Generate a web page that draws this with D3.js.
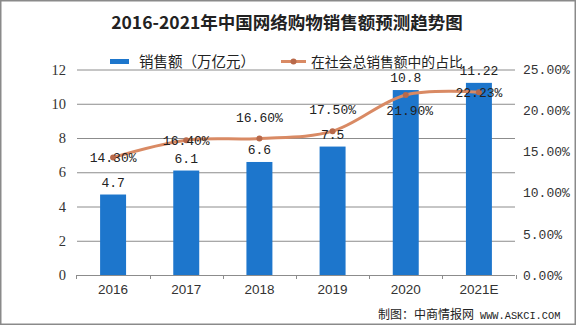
<!DOCTYPE html>
<html><head><meta charset="utf-8">
<script src="https://cdn.jsdelivr.net/npm/d3@7"></script>
<style>
html,body{margin:0;padding:0;background:#fff;}
svg{display:block;}
</style></head>
<body>
<svg id="c" width="576" height="326"></svg>
<script>
const categories = ["2016","2017","2018","2019","2020","2021E"];
const salesValues = [4.7, 6.1, 6.6, 7.5, 10.8, 11.22];
const shareValues = [0.143, 0.164, 0.166, 0.175, 0.219, 0.2223];
const shareLabels = ["14.30%","16.40%","16.60%","17.50%","21.90%","22.23%"];
const shareLabelPlacement = ["center","center","above","above","below","center"];
const leftTicks = [0,2,4,6,8,10,12];
const rightTicks = [0,0.05,0.10,0.15,0.20,0.25];
const titleText = "2016-2021年中国网络购物销售额预测趋势图";
const legendBar = "销售额（万亿元）";
const legendLine = "在社会总销售额中的占比";
const sourceCn = "制图：中商情报网";
const sourceEn = "WWW.ASKCI.COM";

const svg = d3.select("#c");
const barColor = "#1d76cc", lineColor = "#d98a64", markerColor = "#b8694a";
const cjk = "'Noto Sans CJK SC','Noto Sans',sans-serif";
const mono = "'Liberation Mono','DejaVu Sans Mono',monospace";

svg.append("rect").attr("x",0.75).attr("y",0.75).attr("width",574.5).attr("height",323.5)
  .attr("fill","#fff").attr("stroke","#8a8a8a").attr("stroke-width",1.5);

const plotL = 77, plotR = 515, plotT = 69.5, plotB = 275;
const x = d3.scaleBand().domain(categories).range([76.5, 515.5]).paddingInner(0.645).paddingOuter(0.3225);
const y = d3.scaleLinear().domain([0,12]).range([plotB, plotT]);
const y2 = d3.scaleLinear().domain([0,0.25]).range([plotB, plotT]);

// title
svg.append("text").attr("x",287).attr("y",29).attr("text-anchor","middle")
  .attr("font-family",cjk).attr("font-weight","bold").attr("font-size",17.5).attr("fill","#222")
  .text(titleText);

// legend
svg.append("rect").attr("x",110).attr("y",59).attr("width",19).attr("height",5).attr("fill",barColor);
svg.append("text").attr("x",139).attr("y",67).attr("font-family",cjk).attr("font-size",14.5).attr("fill","#222").text(legendBar);
svg.append("line").attr("x1",281).attr("x2",306).attr("y1",61.5).attr("y2",61.5).attr("stroke",lineColor).attr("stroke-width",3);
svg.append("circle").attr("cx",293.5).attr("cy",61.5).attr("r",3).attr("fill",markerColor);
svg.append("text").attr("x",311).attr("y",67).attr("font-family",cjk).attr("font-size",13.8).attr("fill","#222").text(legendLine);

// left axis with gridlines
const gl = svg.append("g").attr("transform",`translate(${plotL},0)`)
  .call(d3.axisLeft(y).tickValues(leftTicks).tickSizeInner(-(plotR-plotL)).tickSizeOuter(0).tickPadding(11));
gl.select(".domain").remove();
gl.selectAll(".tick line").attr("stroke","#8c8c8c").attr("stroke-width",1);
gl.selectAll(".tick text").attr("font-family","'Liberation Serif',serif").attr("font-size",14.5).attr("fill","#333");

// right axis
const gr = svg.append("g").attr("transform",`translate(${plotR},0)`)
  .call(d3.axisRight(y2).tickValues(rightTicks).tickFormat(d3.format(".2%")).tickSize(0).tickPadding(8));
gr.select(".domain").remove();
gr.selectAll(".tick text").attr("font-family",mono).attr("font-size",13).attr("fill","#333");

// bars
svg.append("g").selectAll("rect").data(salesValues).join("rect")
  .attr("x",(d,i)=>x(categories[i])).attr("width",x.bandwidth())
  .attr("y",d=>y(d)).attr("height",d=>plotB-y(d)).attr("fill",barColor);

// bottom axis
const gb = svg.append("g").attr("transform",`translate(0,${plotB})`)
  .call(d3.axisBottom(x).tickSize(0).tickPadding(9));
gb.select(".domain").attr("stroke","#8c8c8c").attr("d",`M${plotL},0.5H${plotR}`);
gb.selectAll(".tick text").attr("font-family","'Liberation Sans',Arial,sans-serif").attr("font-size",13.5).attr("fill","#333");
const half = (x.step()-x.bandwidth())/2;
const bounds = categories.map(c=>x(c)-half).concat([x(categories[categories.length-1])+x.bandwidth()+half]);
gb.selectAll("line.bt").data(bounds).join("line").attr("class","bt")
  .attr("x1",d=>Math.round(d)+0.5).attr("x2",d=>Math.round(d)+0.5).attr("y1",0).attr("y2",4)
  .attr("stroke","#8c8c8c");

// line
const cx = i => x(categories[i]) + x.bandwidth()/2;
const line = d3.line().x((d,i)=>cx(i)).y(d=>y2(d)).curve(d3.curveCatmullRom.alpha(0.5));
svg.append("path").datum(shareValues).attr("d",line).attr("fill","none")
  .attr("stroke",lineColor).attr("stroke-width",3);
svg.append("g").selectAll("circle").data(shareValues).join("circle")
  .attr("cx",(d,i)=>cx(i)).attr("cy",d=>y2(d)).attr("r",3).attr("fill",markerColor);

// bar labels
svg.append("g").selectAll("text").data(salesValues).join("text")
  .attr("x",(d,i)=>cx(i)).attr("y",d=>y(d)-8).attr("text-anchor","middle")
  .attr("font-family",mono).attr("font-size",13).attr("fill","#222").text(d=>d);

// share labels
const dy = {center:4.5, above:-17, below:20.5};
svg.append("g").selectAll("text").data(shareValues).join("text")
  .attr("x",(d,i)=>cx(i)+(shareLabelPlacement[i]==="below"?4:0)).attr("y",(d,i)=>y2(d)+dy[shareLabelPlacement[i]])
  .attr("text-anchor","middle").attr("font-family",mono).attr("font-size",13).attr("fill","#222")
  .text((d,i)=>shareLabels[i]);

// source
svg.append("text").attr("x",378).attr("y",319).attr("font-family",cjk).attr("font-size",12).attr("fill","#222").text(sourceCn);
svg.append("text").attr("x",480).attr("y",318.5).attr("font-family",mono).attr("font-size",10.3).attr("fill","#222").text(sourceEn);
</script>
</body></html>
